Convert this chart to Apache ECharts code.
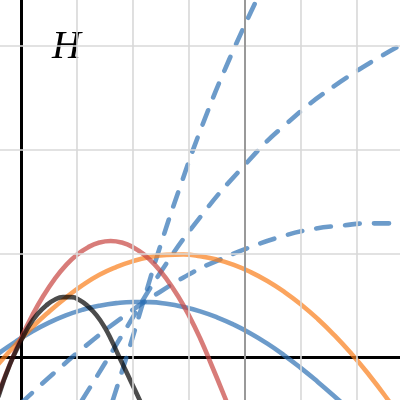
<!DOCTYPE html>
<html>
<head>
<meta charset="utf-8">
<script src="https://cdn.jsdelivr.net/npm/echarts@6/dist/echarts.min.js"></script>
<style>
  html, body { margin: 0; padding: 0; background: #fff; }
  #chart { width: 400px; height: 400px; }
</style>
</head>
<body>
<div id="chart"></div>
<script>
'use strict';

// 坐标范围
var xRange = [-0.375, 6.768];
var yRange = [-0.409, 3.438];

// 网格线
var xGridLines = [1, 2, 3, 5, 6];
var yGridLines = [1, 2, 3];
var markX = 4;

// 实线抛物线
var bluePts = [[-0.4, 0.04], [-0.1, 0.15], [0.2, 0.25], [0.5, 0.335], [0.8, 0.405], [1.1, 0.459],
  [1.4, 0.498], [1.7, 0.523], [2.0, 0.534], [2.3, 0.532], [2.6, 0.516], [2.9, 0.486], [3.2, 0.443],
  [3.5, 0.386], [3.8, 0.315], [4.1, 0.231], [4.4, 0.133], [4.7, 0.021], [5.0, -0.102], [5.3, -0.235],
  [5.6, -0.375], [5.9, -0.52]];
var orangePts = [[-0.4, -0.06], [-0.1, 0.12], [0.2, 0.29], [0.5, 0.44], [0.8, 0.575], [1.1, 0.695],
  [1.4, 0.795], [1.7, 0.87], [2.0, 0.927], [2.3, 0.966], [2.6, 0.987], [2.9, 0.99], [3.2, 0.974],
  [3.5, 0.941], [3.8, 0.891], [4.1, 0.822], [4.4, 0.736], [4.7, 0.632], [5.0, 0.51], [5.3, 0.37],
  [5.6, 0.212], [5.9, 0.036], [6.2, -0.157], [6.5, -0.368], [6.8, -0.6]];
var redPts = [[-0.4, -0.344], [-0.2, -0.066], [0, 0.183], [0.2, 0.403], [0.4, 0.593], [0.6, 0.754],
  [0.8, 0.886], [1.0, 0.988], [1.2, 1.061], [1.4, 1.105], [1.6, 1.12], [1.8, 1.105], [2.0, 1.061],
  [2.2, 0.988], [2.4, 0.886], [2.6, 0.754], [2.8, 0.593], [3.0, 0.403], [3.2, 0.183], [3.4, -0.07],
  [3.6, -0.33], [3.75, -0.53]];
var blackPts = [[-0.4, -0.37], [-0.2, -0.07], [0, 0.16], [0.15, 0.31], [0.3, 0.42], [0.45, 0.50],
  [0.6, 0.555], [0.75, 0.58], [0.9, 0.58], [1.05, 0.55], [1.2, 0.49], [1.35, 0.405], [1.5, 0.285],
  [1.62, 0.16], [1.75, 0.01], [1.9, -0.16], [2.05, -0.33], [2.15, -0.445]];

// 虚线
var dashSteep = [[1.64, -0.41], [1.80, -0.14], [1.98, 0.17], [2.18, 0.53], [2.48, 1.06], [2.84, 1.64],
  [3.25, 2.25], [3.73, 2.88], [4.21, 3.44]];
var dashMid = [[1.09, -0.41], [1.46, -0.09], [1.89, 0.29], [2.48, 0.81], [3.20, 1.35], [3.96, 1.83],
  [4.68, 2.22], [5.70, 2.65], [6.77, 3.00]];
var dashFlat = [[0.0, -0.44], [0.59, -0.15], [1.29, 0.17], [1.95, 0.44], [2.48, 0.63], [3.07, 0.82],
  [3.50, 0.93], [4.04, 1.05], [4.57, 1.15], [5.16, 1.23], [5.75, 1.27], [6.23, 1.29], [6.77, 1.29]];

var BLUE = '#2d70b3', RED = '#c74440', ORANGE = '#fa7e19', BLACK = '#000000';

var chart = echarts.init(document.getElementById('chart'));

function curve(pts, color, dashed) {
  return {
    type: 'line',
    data: pts,
    smooth: true,
    showSymbol: false,
    symbol: 'none',
    silent: true,
    z: 3,
    lineStyle: {
      color: color,
      width: 4.6,
      opacity: 0.7,
      cap: 'round',
      join: 'round',
      type: dashed ? [15, 14] : 'solid'
    }
  };
}

var gridMarks = xGridLines.map(function (v) {
  return { xAxis: v };
}).concat(yGridLines.map(function (v) {
  return { yAxis: v };
}));

var option = {
  animation: false,
  backgroundColor: '#fff',
  grid: { left: 0, right: 0, top: 0, bottom: 0 },
  xAxis: {
    type: 'value',
    min: xRange[0],
    max: xRange[1],
    splitLine: { show: false },
    axisTick: { show: false },
    axisLabel: { show: false },
    axisLine: { show: true, onZero: true, lineStyle: { color: '#000', width: 3 } }
  },
  yAxis: {
    type: 'value',
    min: yRange[0],
    max: yRange[1],
    splitLine: { show: false },
    axisTick: { show: false },
    axisLabel: { show: false },
    axisLine: { show: true, onZero: true, lineStyle: { color: '#000', width: 3 } }
  },
  graphic: [{
    type: 'text',
    left: 52,
    top: 27,
    silent: true,
    style: {
      text: 'H',
      font: 'italic 40px "Liberation Serif", "DejaVu Serif", serif',
      fill: '#000'
    }
  }],
  series: [
    {
      // 网格线
      type: 'line',
      data: [],
      z: 1,
      silent: true,
      markLine: {
        silent: true,
        symbol: 'none',
        animation: false,
        label: { show: false },
        lineStyle: { color: '#d8d8d8', width: 1.6, type: 'solid' },
        data: gridMarks
      }
    },
    {
      type: 'line',
      data: [],
      z: 1,
      silent: true,
      markLine: {
        silent: true,
        symbol: 'none',
        animation: false,
        label: { show: false },
        lineStyle: { color: '#999', width: 2, type: 'solid' },
        data: [{ xAxis: markX }]
      }
    },
    curve(dashSteep, BLUE, true),
    curve(dashMid, BLUE, true),
    curve(dashFlat, BLUE, true),
    curve(bluePts, BLUE, false),
    curve(orangePts, ORANGE, false),
    curve(redPts, RED, false),
    curve(blackPts, BLACK, false)
  ]
};

chart.setOption(option);
</script>
</body>
</html>
